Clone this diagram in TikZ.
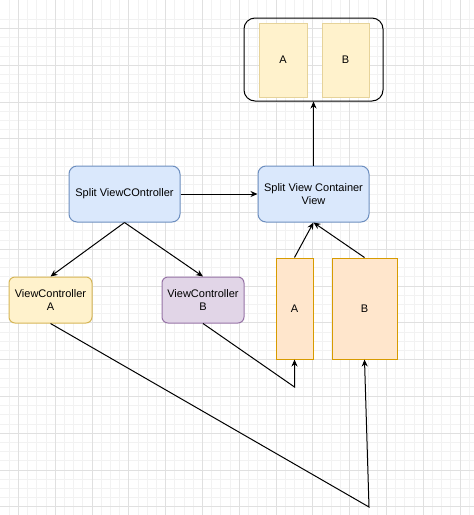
\documentclass[tikz,border=0pt]{standalone}
\usepackage{fontspec}
\setmainfont{Liberation Sans}
\usetikzlibrary{arrows.meta}
\definecolor{bluefill}{HTML}{DAE8FC}
\definecolor{bluedraw}{HTML}{6C8EBF}
\definecolor{yellowfill}{HTML}{FFF2CC}
\definecolor{yellowdraw}{HTML}{D6B656}
\definecolor{purplefill}{HTML}{E1D5E7}
\definecolor{purpledraw}{HTML}{9673A6}
\definecolor{orangefill}{HTML}{FFE6CC}
\definecolor{orangedraw}{HTML}{D79B00}
\definecolor{gridminor}{HTML}{F2F2F2}
\definecolor{gridmajor}{HTML}{E0E0E0}
\tikzset{
  box/.style={draw,line width=1pt,font=\fontsize{11}{13}\selectfont,align=center,inner sep=0pt},
  bluebox/.style={box,rounded corners=8pt,fill=bluefill,draw=bluedraw},
  yellowbox/.style={box,rounded corners=6pt,fill=yellowfill,draw=yellowdraw},
  purplebox/.style={box,rounded corners=6pt,fill=purplefill,draw=purpledraw},
  orangebox/.style={box,fill=orangefill,draw=orangedraw},
  paperbox/.style={box,fill=yellowfill,draw=yellowdraw!60},
  link/.style={line width=1pt,-{Stealth[length=7pt,width=6pt]}},
}
\begin{document}
\begin{tikzpicture}[x=1pt,y=-1pt]
  \useasboundingbox[fill=white] (0,0) rectangle (474,515);
  % grid
  \foreach \i in {-1,...,51} {
    \draw[gridminor,line width=0.5pt] ({18.3+9.2*\i},0) -- ({18.3+9.2*\i},515);
    \draw[gridminor,line width=0.5pt] (0,{28.3+9.2*\i}) -- (474,{28.3+9.2*\i});
  }
  \foreach \i in {0,...,13} {
    \draw[gridmajor,line width=0.8pt] ({18.3+36.8*\i},0) -- ({18.3+36.8*\i},515);
    \draw[gridmajor,line width=0.8pt] (0,{28.3+36.8*\i}) -- (474,{28.3+36.8*\i});
  }

  \node[box,rounded corners=11pt,minimum width=139pt,minimum height=83pt] (frame) at (313.5,59.5) {};
  \node[paperbox,minimum width=48pt,minimum height=74pt] (pageA) at (283,60) {A};
  \node[paperbox,minimum width=47pt,minimum height=74pt] (pageB) at (345.5,60) {B};

  \node[bluebox,minimum width=111pt,minimum height=56pt] (svc) at (124.5,194) {Split ViewCOntroller};
  \node[bluebox,minimum width=111pt,minimum height=56pt] (cview) at (313.5,194) {Split View Container\\View};

  \node[yellowbox,minimum width=83pt,minimum height=46pt] (vca) at (50.5,300) {ViewController\\A};
  \node[purplebox,minimum width=82pt,minimum height=46pt] (vcb) at (203,300) {ViewController\\B};

  \node[orangebox,minimum width=37pt,minimum height=101pt] (partA) at (294.5,308.5) {A};
  \node[orangebox,minimum width=65pt,minimum height=101pt] (partB) at (364.5,308.5) {B};

  \coordinate (bendA) at (294.5,387);
  \coordinate (bendB) at (369,507);

  \draw[link] (cview) -- (frame);
  \draw[link] (svc) -- (cview);
  \draw[link] (svc.south) -- (vca.north);
  \draw[link] (svc.south) -- (vcb.north);
  \draw[link] (partA.north) -- (cview.south);
  \draw[link] (partB.north) -- (cview.south);
  \draw[link] (vcb.south) -- (bendA) -- (partA.south);
  \draw[link] (vca.south) -- (bendB) -- (partB.south);
\end{tikzpicture}
\end{document}
